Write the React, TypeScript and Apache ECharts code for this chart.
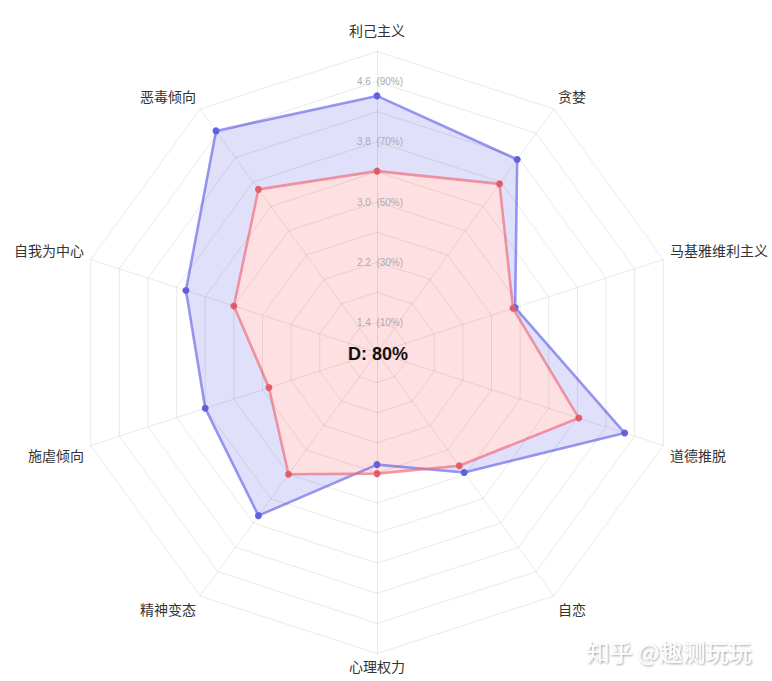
import React, { useEffect, useRef } from "react";
import * as echarts from "echarts";

// indicators, counter-clockwise from the top
const indicatorNames = [
    "利己主义", "恶毒倾向", "自我为中心", "施虐倾向", "精神变态",
    "心理权力", "自恋", "道德推脱", "马基雅维利主义", "贪婪",
];
const blueValues = [4.41, 4.64, 3.67, 3.40, 3.68, 2.49, 2.97, 4.46, 2.93, 4.17];
const redValues = [3.41, 3.68, 3.0, 2.51, 3.0, 2.61, 2.86, 3.82, 2.9, 3.77];

const scaleMin = 1;
const scaleMax = 5;
const tickValues = [1.4, 2.2, 3.0, 3.8, 4.6];
const tickLabels = ["1.4  (10%)", "2.2  (30%)", "3.0  (50%)", "3.8  (70%)", "4.6  (90%)"];
const centerLabel = "D: 80%";
const watermark = "知乎 @趣测玩玩";

const CX = 377;
const CY = 352.5;
const RADIUS = 301;
const CJK = '"Noto Sans CJK SC", "Noto Sans", sans-serif';
const SANS = "Arial, 'Liberation Sans', sans-serif";

const BLUE_LINE = "rgba(104,104,232,0.68)";
const BLUE_POINT = "#6464e2";
const BLUE_FILL = "#e0e0fb";
const RED_LINE = "rgba(236,108,122,0.68)";
const RED_POINT = "#e8606e";
const RED_FILL = "#ffe0e2";

// point labels placed like chart.js does: just outside the ring, aligned by angle
const nameLabels = () =>
    indicatorNames.map((name, i) => {
        const angle = Math.PI / 2 + (i * 2 * Math.PI) / indicatorNames.length;
        const cos = Math.cos(angle);
        const sin = Math.sin(angle);
        const r = RADIUS + 7;
        let y = CY - r * sin;
        if (Math.abs(cos) < 0.01) y += sin > 0 ? -8 : -2;
        return {
            type: "text",
            x: CX + r * cos,
            y,
            style: {
                text: name,
                fill: "#333",
                fontSize: 14,
                fontFamily: CJK,
                align: Math.abs(cos) < 0.01 ? "center" : cos > 0 ? "left" : "right",
                verticalAlign: sin > 0.01 ? "bottom" : "top",
            },
            z: 10,
        };
    });

const App = () => {
    const chartRef = useRef<HTMLDivElement>(null);

    useEffect(() => {
        if (!chartRef.current) return;
        const chart = echarts.init(chartRef.current, null, { renderer: "svg" });

        const tickTexts = tickValues.map((v, i) => ({
            type: "text",
            x: CX + 3,
            y: CY - (RADIUS * (v - scaleMin)) / (scaleMax - scaleMin),
            style: {
                text: tickLabels[i],
                fill: "#ababab",
                fontSize: 10,
                fontFamily: SANS,
                align: "center",
                verticalAlign: "middle",
            },
            z: 10,
        }));

        chart.setOption({
            animation: false,
            radar: {
                center: [CX, CY],
                radius: RADIUS,
                startAngle: 90,
                splitNumber: 10,
                shape: "polygon",
                z: 3,
                axisName: { show: false },
                indicator: indicatorNames.map(name => ({ name, min: scaleMin, max: scaleMax })),
                splitLine: { lineStyle: { color: "rgba(0,0,0,0.085)", width: 1 } },
                axisLine: { lineStyle: { color: "rgba(0,0,0,0.085)", width: 1 } },
                splitArea: { show: false },
                axisLabel: { show: false },
                axisTick: { show: false },
            },
            graphic: [
                ...nameLabels(),
                ...tickTexts,
                {
                    type: "text",
                    x: CX + 1,
                    y: CY + 1,
                    style: {
                        text: centerLabel,
                        fill: "#111",
                        fontSize: 18,
                        fontWeight: "bold",
                        fontFamily: SANS,
                        align: "center",
                        verticalAlign: "middle",
                    },
                    z: 10,
                },
                {
                    type: "text",
                    x: 669,
                    y: 651,
                    style: {
                        text: watermark,
                        fill: "#fdfdfd",
                        fontSize: 23,
                        fontFamily: CJK,
                        align: "center",
                        verticalAlign: "middle",
                        textShadowColor: "rgba(0,0,0,0.4)",
                        textShadowBlur: 2,
                        textShadowOffsetX: 1,
                        textShadowOffsetY: 1,
                    },
                    z: 10,
                },
            ],
            series: [
                // fills first, so the outlines stay whole on top of them
                {
                    type: "radar",
                    symbol: "none",
                    lineStyle: { width: 0 },
                    silent: true,
                    data: [
                        { value: blueValues, name: "A", areaStyle: { color: BLUE_FILL, opacity: 1 } },
                        { value: redValues, name: "B", areaStyle: { color: RED_FILL, opacity: 1 } },
                    ],
                },
                {
                    type: "radar",
                    symbol: "circle",
                    symbolSize: 7,
                    data: [
                        {
                            value: blueValues,
                            name: "A",
                            lineStyle: { color: BLUE_LINE, width: 2.6 },
                            itemStyle: { color: BLUE_POINT },
                        },
                        {
                            value: redValues,
                            name: "B",
                            lineStyle: { color: RED_LINE, width: 2.6 },
                            itemStyle: { color: RED_POINT },
                        },
                    ],
                },
            ],
        });

        return () => chart.dispose();
    }, []);

    return (
        <div
            ref={chartRef}
            style={{ position: "absolute", left: 0, top: 0, width: 772, height: 681, background: "#fff" }}
        />
    );
};

export default App;
